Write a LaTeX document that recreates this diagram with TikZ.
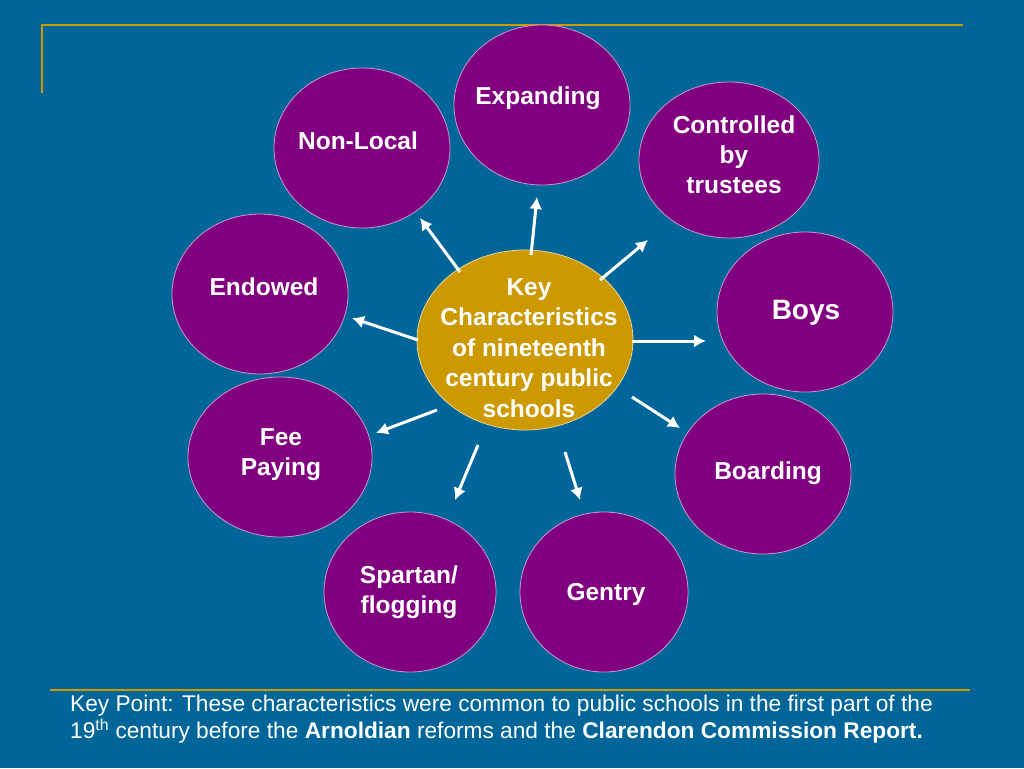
\documentclass[tikz,border=0pt]{standalone}
\usepackage{fontspec}
\setmainfont{Liberation Sans}
\begin{document}
\begin{tikzpicture}[x=1pt,y=-1pt,
  lab/.style={font=\fontsize{24.5}{30}\selectfont\bfseries,text=white,align=center},
  arr/.style={draw=white,line width=3pt,-{Latex[length=12pt,width=13pt]}}]
\definecolor{bg}{RGB}{0,102,153}
\definecolor{pur}{RGB}{128,0,128}
\definecolor{gold}{RGB}{204,153,0}
\usetikzlibrary{arrows.meta}
\fill[bg] (0,0) rectangle (1024,768);
\useasboundingbox (0,0) rectangle (1024,768);
\draw[gold,line width=1.5pt] (42,93) -- (42,25) -- (963,25);
\draw[gold,line width=1.5pt] (50,690) -- (970,690);
\foreach \n/\x/\y/\rx/\ry in {e1/542/105/88/80, e2/362/148/88/80, e3/729/160/90/78, e4/260/294/88/80, e5/805/312/88/80, e6/280/457/92/80, e7/763/474/88/80, e8/410/592/86/80, e9/604/592/84/80}
  \fill[pur,draw=white!60!pur,line width=0.8pt] (\x,\y) ellipse [x radius=\rx, y radius=\ry];
\fill[gold,draw=white!60!gold,line width=0.8pt] (525,340) ellipse [x radius=108, y radius=90];
\node[lab] (t1) at (538,98) {Expanding};
\node[lab] (t2) at (358,141) {Non-Local};
\node[lab] (t3) at (734,155) {Controlled\\by\\trustees};
\node[lab] (t4) at (264,287) {Endowed};
\node[lab,font=\fontsize{28}{30}\selectfont\bfseries] (t5) at (806,313) {Boys};
\node[lab] (t6) at (281,455) {Fee\\Paying};
\node[lab] (t7) at (768,473) {Boarding};
\node[lab] (t8) at (409,592) {Spartan/\\flogging};
\node[lab] (t9) at (606,594) {Gentry};
\node[lab,font=\fontsize{24.5}{30.5}\selectfont\bfseries] (c) at (529,348) {Key\\Characteristics\\of nineteenth\\century public\\schools};
\foreach \a/\b/\c/\d in {531/255/537/197, 460/272/420/218, 600/280/648/240, 418/340/352/318, 632/341/706/341, 437/410/376/433, 632/397/680/428, 478/445/455/500, 565/452/580/500}{
  \coordinate (s) at (\a,\b); \coordinate (t) at (\c,\d);
  \draw[arr] (s) -- (t);}
\node[anchor=west,font=\fontsize{22.7}{27}\selectfont,text=white,align=left,inner sep=0pt] (kp) at (70,719)
 {Key Point: These characteristics were common to public schools in the first part of the\\
  19\textsuperscript{th} century before the \textbf{Arnoldian} reforms and the \textbf{Clarendon Commission Report.}};
\end{tikzpicture}
\end{document}
